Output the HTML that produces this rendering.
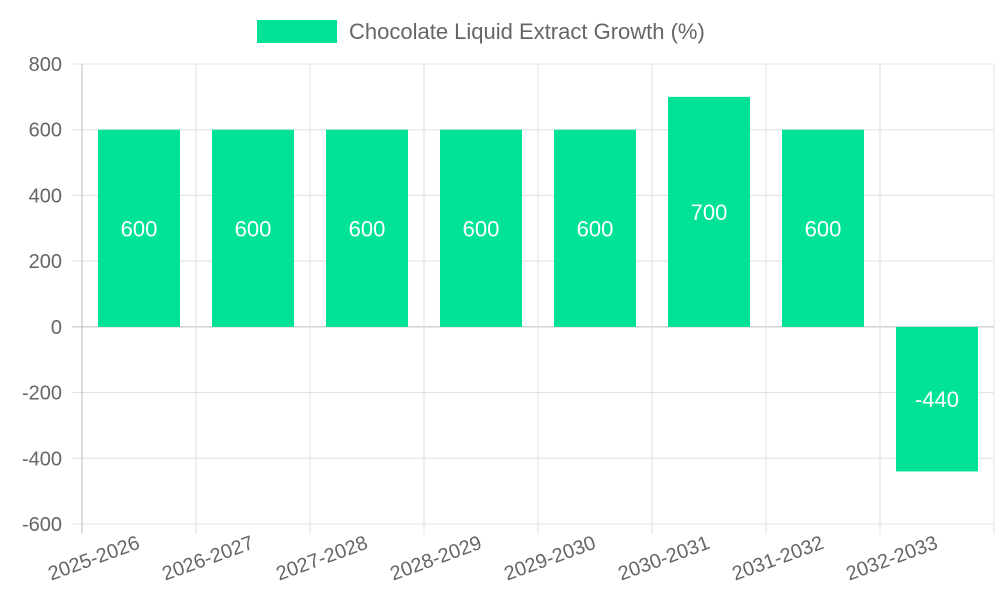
<!DOCTYPE html>
<html><head><meta charset="utf-8"><style>
body{margin:0;background:#fff;}
svg{font-family:"Liberation Sans",sans-serif;display:block}
</style></head><body>
<svg id="chart" width="1000" height="600">
<g>
<rect x="257" y="20" width="80" height="23" fill="#00e396"/>
<text x="349" y="39" font-size="22" fill="#666">Chocolate Liquid Extract Growth (%)</text>
</g>
<g id="grid"></g><g id="bars"></g><g id="axes"></g>
</svg>
<script>
const categories=["2025-2026","2026-2027","2027-2028","2028-2029","2029-2030","2030-2031","2031-2032","2032-2033"];
const values=[600,600,600,600,600,700,600,-440];
const yTicks=[800,600,400,200,0,-200,-400,-600];
const NS="http://www.w3.org/2000/svg";
const L=82,R=994,T=64,B=524,yMax=800,yMin=-600;
const y=v=>T+(yMax-v)/(yMax-yMin)*(B-T);
const bw=(R-L)/categories.length;
const xc=i=>L+bw*(i+0.5);
function mk(tag,attrs,parent,txt){const e=document.createElementNS(NS,tag);for(const k in attrs)e.setAttribute(k,attrs[k]);if(txt!==undefined)e.textContent=txt;document.getElementById(parent).appendChild(e);return e;}
yTicks.forEach(t=>{
  const ln=mk("line",{x1:72,x2:R,y1:y(t),y2:y(t),stroke:t===0?"#bbb":"#e0e0e0","stroke-width":1},"grid");
  
  
  const tx=mk("text",{x:62,y:y(t)+7,"text-anchor":"end","font-size":20,fill:"#666"},"axes",t);
  
  
});
for(let i=0;i<=categories.length;i++){
  const gx=L+bw*i;
  const ln=mk("line",{x1:gx,x2:gx,y1:T,y2:534,stroke:i===0?"#bbb":"#e0e0e0","stroke-width":1},"grid");
  
  
}
categories.forEach((c,i)=>{
  const v=values[i];const w=bw*0.72;
  const top=Math.min(y(v),y(0)),h=Math.abs(y(v)-y(0));
  const r=mk("rect",{x:xc(i)-w/2,y:top,width:w,height:h,fill:"#00e396"},"bars");
  
  
  const lb=mk("text",{x:xc(i),y:top+h/2+8,"text-anchor":"middle","font-size":22,fill:"#fff"},"bars",v);
  
  
  const xl=mk("text",{x:xc(i)+2,y:548,"text-anchor":"end","font-size":20,fill:"#666",transform:`rotate(-20 ${xc(i)+2} 548)`},"axes",c);
  
  
});
</script>
</body></html>
